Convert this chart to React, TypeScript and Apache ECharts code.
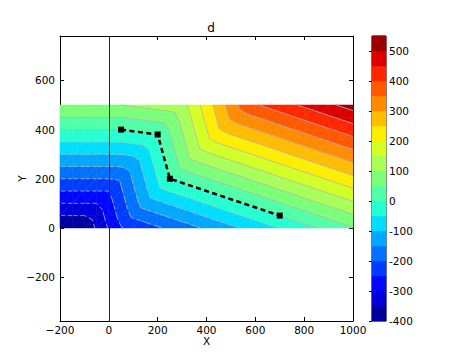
import React, { useEffect, useRef } from "react";
import * as echarts from "echarts";

// Grid nodes of the contoured field "d"
const fieldX = [-200, -150, -100, -50, 0, 50, 100, 150, 200, 250, 300, 350, 400, 450, 500, 550, 600, 650, 700, 750, 800, 850, 900, 950, 1000];
const fieldY = [0, 50, 100, 150, 200, 250, 300, 350, 400, 450, 500];
// one row per fieldY value, one entry per fieldX value
const fieldRows = [
  [-400, -400, -390.8, -342.6, -294.4, -253.0, -237.2, -221.4, -205.6, -189.7, -173.9, -158.1, -142.3, -126.5, -110.7, -94.9, -79.1, -63.3, -47.5, -31.6, -15.8, 0.0, 15.8, 31.6, 47.4],
  [-350, -350, -350, -329.2, -281.0, -232.8, -189.8, -174.0, -158.2, -142.3, -126.5, -110.7, -94.9, -79.1, -63.3, -47.5, -31.7, -15.9, 0.0, 15.8, 31.6, 47.4, 63.2, 79.0, 94.8],
  [-300, -300, -300, -300, -267.6, -219.4, -171.2, -126.5, -110.7, -94.8, -79.0, -63.2, -47.4, -31.6, -15.8, 0.0, 15.8, 31.6, 47.4, 63.3, 79.1, 94.9, 110.7, 126.5, 142.3],
  [-250, -250, -250, -250, -250, -206.1, -157.9, -109.7, -63.3, -47.4, -31.6, -15.8, 0.0, 15.8, 31.6, 47.4, 63.2, 79.0, 94.8, 110.7, 126.5, 142.3, 158.1, 173.9, 189.7],
  [-200, -200, -200, -200, -200, -192.7, -144.5, -96.3, -48.2, 0.0, 15.8, 31.6, 47.4, 63.2, 79.0, 94.8, 110.6, 126.4, 142.2, 158.1, 173.9, 189.7, 205.5, 221.3, 237.1],
  [-150, -150, -150, -150, -150, -148.7, -131.1, -82.9, -34.8, 13.4, 61.6, 79.1, 94.9, 110.7, 126.5, 142.3, 158.1, 173.9, 189.7, 205.6, 221.4, 237.2, 253.0, 268.8, 284.6],
  [-100, -100, -100, -100, -100, -99.1, -92.5, -69.5, -21.4, 26.8, 75.0, 123.2, 142.3, 158.1, 173.9, 189.7, 205.5, 221.3, 237.1, 253.0, 268.8, 284.6, 300.4, 316.2, 332.0],
  [-50, -50, -50, -50, -50, -49.6, -43.0, -36.4, -8.0, 40.2, 88.4, 136.6, 184.8, 205.5, 221.3, 237.1, 252.9, 268.7, 284.5, 300.4, 316.2, 332.0, 347.8, 363.6, 379.4],
  [0, 0, 0, 0, 0, 0, 6.6, 13.2, 19.8, 53.6, 101.8, 150.0, 198.2, 246.4, 268.8, 284.6, 300.4, 316.2, 332.0, 347.9, 363.7, 379.5, 395.3, 411.1, 426.9],
  [50, 50, 50, 50, 50, 50, 56.2, 62.8, 69.4, 76.1, 115.2, 163.4, 211.6, 259.8, 308.0, 332.0, 347.8, 363.6, 379.4, 395.3, 411.1, 426.9, 442.7, 458.5, 474.3],
  [100, 100, 100, 100, 100, 100, 105.7, 112.3, 118.9, 125.6, 132.2, 176.8, 225.0, 273.2, 321.4, 369.5, 395.3, 411.1, 426.9, 442.8, 458.6, 474.4, 490.2, 506.0, 521.8],
];

const levels = [-400, -350, -300, -250, -200, -150, -100, -50, 0, 50, 100, 150, 200, 250, 300, 350, 400, 450, 500, 550];
const bandColors = [
  "#00009e", "#0000db", "#0007ff", "#003cff", "#0072ff", "#00a8ff", "#00ddfd", "#25ffd2", "#50ffa7", "#7bff7b",
  "#a7ff58", "#d2ff25", "#fdee00", "#ffbc00", "#ff8b00", "#ff5900", "#ff2700", "#db0000", "#9e0000",
];

const pathX = [50, 200, 250, 700];
const pathY = [400, 380, 200, 50];

const xTicks = [-200, 0, 200, 400, 600, 800, 1000];
const yTicks = [-200, 0, 200, 400, 600];
const cbTicks = [-400, -300, -200, -100, 0, 100, 200, 300, 400, 500];

const X_MIN = -200;
const X_MAX = 1000;
const Y_MIN = -379;
const Y_MAX = 781;

type P = { x: number; y: number; v: number };

function lerp(a: P, b: P, level: number): P {
  const t = (level - a.v) / (b.v - a.v);
  return { x: a.x + t * (b.x - a.x), y: a.y + t * (b.y - a.y), v: level };
}

function clipPoly(poly: P[], level: number, keepAbove: boolean): P[] {
  const out: P[] = [];
  const n = poly.length;
  for (let k = 0; k < n; k++) {
    const cur = poly[k];
    const prev = poly[(k + n - 1) % n];
    const cin = keepAbove ? cur.v >= level : cur.v <= level;
    const pin = keepAbove ? prev.v >= level : prev.v <= level;
    if (cin) {
      if (!pin) out.push(lerp(prev, cur, level));
      out.push(cur);
    } else if (pin) {
      out.push(lerp(prev, cur, level));
    }
  }
  return out;
}

function cellTriangles(i: number, j: number): P[][] {
  const p00 = { x: fieldX[i], y: fieldY[j], v: fieldRows[j][i] };
  const p10 = { x: fieldX[i + 1], y: fieldY[j], v: fieldRows[j][i + 1] };
  const p01 = { x: fieldX[i], y: fieldY[j + 1], v: fieldRows[j + 1][i] };
  const p11 = { x: fieldX[i + 1], y: fieldY[j + 1], v: fieldRows[j + 1][i + 1] };
  return [
    [p00, p10, p11],
    [p00, p11, p01],
  ];
}

const fmt = (v: number) => (v < 0 ? "\u2212" + Math.abs(v) : String(v));

const FONT = "DejaVu Sans";

export default function App() {
  const ref = useRef<HTMLDivElement>(null);
  useEffect(() => {
    document.body.style.margin = "0";
    const chart = echarts.init(ref.current!, null, { renderer: "svg" });

    const cells: number[][] = [];
    for (let j = 0; j < fieldY.length - 1; j++) {
      for (let i = 0; i < fieldX.length - 1; i++) cells.push([i, j]);
    }

    const renderFill = (_params: any, api: any) => {
      const i = api.value(0);
      const j = api.value(1);
      const children: any[] = [];
      for (const tri of cellTriangles(i, j)) {
        const vs = tri.map((p) => p.v);
        const vmin = Math.min(...vs);
        const vmax = Math.max(...vs);
        for (let k = 0; k < levels.length - 1; k++) {
          const lo = levels[k];
          const hi = levels[k + 1];
          if (vmax <= lo && !(k === 0 && vmax === lo)) continue;
          if (vmin >= hi) continue;
          let poly = clipPoly(tri, lo, true);
          if (poly.length < 3) continue;
          poly = clipPoly(poly, hi, false);
          if (poly.length < 3) continue;
          const pts = poly.map((p) => api.coord([p.x, p.y]));
          children.push({
            type: "polygon",
            shape: { points: pts },
            style: { fill: bandColors[k], stroke: bandColors[k], lineWidth: 0.6 },
          });
        }
      }
      return { type: "group", children };
    };

    const onBoundary = (a: P, b: P) =>
      (Math.abs(a.y - 500) < 1e-6 && Math.abs(b.y - 500) < 1e-6) ||
      (Math.abs(a.y) < 1e-6 && Math.abs(b.y) < 1e-6) ||
      (Math.abs(a.x + 200) < 1e-6 && Math.abs(b.x + 200) < 1e-6) ||
      (Math.abs(a.x - 1000) < 1e-6 && Math.abs(b.x - 1000) < 1e-6);

    const renderLines = (_params: any, api: any) => {
      const i = api.value(0);
      const j = api.value(1);
      const children: any[] = [];
      for (const tri of cellTriangles(i, j)) {
        for (let k = 1; k < levels.length - 1; k++) {
          const L = levels[k];
          const above = tri.map((p) => p.v >= L);
          const cnt = above.filter(Boolean).length;
          if (cnt === 0 || cnt === 3) continue;
          const pts: P[] = [];
          const edges = [
            [0, 1],
            [1, 2],
            [2, 0],
          ];
          for (const [a, b] of edges) {
            if (above[a] !== above[b]) pts.push(lerp(tri[a], tri[b], L));
          }
          if (pts.length !== 2) continue;
          if (onBoundary(pts[0], pts[1])) continue;
          const c1 = api.coord([pts[0].x, pts[0].y]);
          const c2 = api.coord([pts[1].x, pts[1].y]);
          if (Math.hypot(c1[0] - c2[0], c1[1] - c2[1]) < 0.05) continue;
          children.push({
            type: "line",
            shape: { x1: c1[0], y1: c1[1], x2: c2[0], y2: c2[1] },
            style: {
              stroke: "#b4b4b4",
              lineWidth: 0.8,
              lineDash: L < 0 ? [4, 3] : null,
            },
          });
        }
      }
      return { type: "group", children };
    };

    const renderBar = (_params: any, api: any) => {
      const k = api.value(0);
      const p1 = api.coord([0, levels[k + 1]]);
      const p2 = api.coord([1, levels[k]]);
      return {
        type: "rect",
        shape: { x: p1[0], y: p1[1], width: p2[0] - p1[0], height: p2[1] - p1[1] },
        style: { fill: bandColors[k], stroke: bandColors[k], lineWidth: 0.5 },
      };
    };

    const axisLineStyle = { show: true, onZero: false, lineStyle: { color: "#000", width: 1 } };
    const tickStyle = { show: true, inside: true, length: 4, lineStyle: { color: "#000", width: 1 } };
    const labelStyle = { color: "#000", fontSize: 10.5, fontFamily: FONT };

    chart.setOption({
      animation: false,
      backgroundColor: "#fff",
      title: {
        text: "d",
        left: 206,
        textAlign: "center",
        top: 17,
        textStyle: { fontSize: 12, fontWeight: "normal", color: "#000", fontFamily: FONT },
      },
      grid: [
        { left: 60, top: 36, width: 293, height: 285, containLabel: false, outerBoundsMode: "none" },
        {
          left: 372,
          top: 36,
          width: 14,
          height: 285,
          show: true,
          borderColor: "#000",
          borderWidth: 1,
          containLabel: false,
          outerBoundsMode: "none",
        },
      ],
      xAxis: [
        {
          gridIndex: 0,
          type: "value",
          min: X_MIN,
          max: X_MAX,
          interval: 200,
          position: "bottom",
          axisLine: axisLineStyle,
          axisTick: tickStyle,
          axisLabel: { ...labelStyle, margin: 3, formatter: fmt, customValues: xTicks },
          splitLine: { show: false },
          name: "X",
          nameLocation: "middle",
          nameGap: 14,
          nameMoveOverlap: false,
          nameTextStyle: { ...labelStyle },
        },
        {
          gridIndex: 0,
          type: "value",
          min: X_MIN,
          max: X_MAX,
          interval: 200,
          position: "top",
          axisLine: axisLineStyle,
          axisTick: tickStyle,
          axisLabel: { show: false },
          splitLine: { show: false },
        },
        { gridIndex: 1, type: "value", min: 0, max: 1, show: false },
      ],
      yAxis: [
        {
          gridIndex: 0,
          type: "value",
          min: Y_MIN,
          max: Y_MAX,
          position: "left",
          axisLine: axisLineStyle,
          axisTick: { ...tickStyle, customValues: yTicks },
          axisLabel: { ...labelStyle, margin: 5, formatter: fmt, customValues: yTicks },
          splitLine: { show: false },
          name: "Y",
          nameLocation: "middle",
          nameGap: 33,
          nameMoveOverlap: false,
          nameTextStyle: { ...labelStyle },
        },
        {
          gridIndex: 0,
          type: "value",
          min: Y_MIN,
          max: Y_MAX,
          position: "right",
          axisLine: axisLineStyle,
          axisTick: { ...tickStyle, customValues: yTicks },
          axisLabel: { show: false },
          splitLine: { show: false },
        },
        {
          gridIndex: 1,
          type: "value",
          min: -400,
          max: 550,
          position: "right",
          axisLine: { show: false },
          axisTick: { show: true, inside: true, length: 3, lineStyle: { color: "#000" }, customValues: cbTicks },
          axisLabel: { ...labelStyle, margin: 3, customValues: cbTicks },
          splitLine: { show: false },
        },
      ],
      series: [
        {
          type: "custom",
          xAxisIndex: 0,
          yAxisIndex: 0,
          data: cells,
          renderItem: renderFill,
          silent: true,
          z: 1,
        },
        {
          type: "custom",
          xAxisIndex: 0,
          yAxisIndex: 0,
          data: cells,
          renderItem: renderLines,
          silent: true,
          z: 2,
        },
        {
          type: "line",
          xAxisIndex: 0,
          yAxisIndex: 0,
          data: pathX.map((x, i) => [x, pathY[i]]),
          symbol: "rect",
          symbolSize: 6,
          itemStyle: { color: "#000" },
          lineStyle: { color: "#000", width: 2.5, type: [5, 3.5] },
          z: 4,
          silent: true,
          markLine: {
            silent: true,
            symbol: ["none", "none"],
            label: { show: false },
            lineStyle: { color: "#222", width: 1, type: "solid" },
            data: [{ xAxis: 0 }],
            z: 3,
          },
        },
        {
          type: "custom",
          xAxisIndex: 2,
          yAxisIndex: 2,
          data: bandColors.map((_c, k) => [k, levels[k]]),
          renderItem: renderBar,
          silent: true,
          z: 1,
        },
      ],
    });
    return () => chart.dispose();
  }, []);
  return <div ref={ref} style={{ width: 474, height: 357 }} />;
}
